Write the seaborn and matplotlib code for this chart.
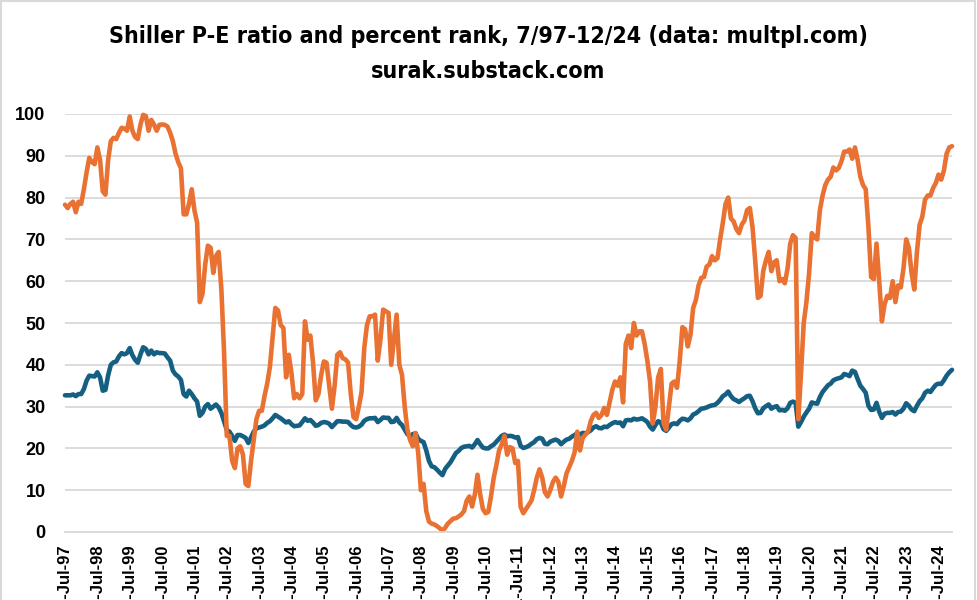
import numpy as np
import pandas as pd
import matplotlib
matplotlib.use("Agg")
import matplotlib.pyplot as plt
import seaborn as sns
from matplotlib import font_manager
from matplotlib.font_manager import FontProperties
from matplotlib.patches import Rectangle

# ---------------- data (monthly, 1-Jul-1997 .. 1-Dec-2024) ----------------
shiller_pe = [
    32.7, 32.7, 32.7, 32.9, 32.5, 33,                                   # 1997 Jul-Dec
    33, 34.2, 36.2, 37.4, 37.3, 37.2, 38.2, 37, 33.8, 34, 37.5, 40,     # 1998
    40.6, 40.8, 42, 42.8, 42.5, 42.8, 44, 42.3, 41.2, 40.5, 42.5, 44.2, # 1999
    43.8, 42.5, 43.4, 42.5, 43, 42.8, 42.8, 42.7, 41.8, 41, 38.6, 37.7, # 2000
    37.2, 36.4, 33, 32.4, 33.8, 33, 32, 31.2, 27.8, 28.5, 30, 30.6,     # 2001
    29.5, 30, 30.5, 29.8, 28.5, 26.5, 24.4, 24, 23, 21.8, 23.2, 23.2,   # 2002
    22.9, 22.5, 21.3, 22.6, 24, 24.8, 25, 25.2, 25.5, 26.1, 26.5, 27.2, # 2003
    28, 27.6, 27.2, 26.7, 26.2, 26.5, 25.8, 25.3, 25.4, 25.5, 26.3, 27.2,  # 2004
    26.6, 26.8, 26.2, 25.4, 25.6, 26.1, 26.3, 26.2, 25.9, 25.1, 25.8, 26.5,  # 2005
    26.5, 26.4, 26.4, 26.3, 25.6, 25.1, 25, 25.2, 25.7, 26.6, 27, 27.2,  # 2006
    27.2, 27.3, 26.3, 26.8, 27.4, 27.3, 27.3, 26.3, 26.4, 27.3, 26.2, 25.6,  # 2007
    24.5, 23.4, 22.9, 23.4, 23.6, 22.3, 21.8, 21.5, 19.5, 17, 15.7, 15.5,  # 2008
    14.9, 14.2, 13.6, 15.1, 15.9, 16.7, 17.8, 18.9, 19.4, 20.1, 20.4, 20.5,  # 2009
    20.6, 20.2, 21, 22, 21, 20.2, 20, 20, 20.5, 20.9, 21.6, 22.3,       # 2010
    23, 23.3, 22.9, 23, 22.9, 22.6, 22.7, 20.6, 20.1, 20.3, 20.6, 21.1, # 2011
    21.5, 22.2, 22.5, 22.3, 21.1, 21, 21.6, 21.9, 22.1, 21.8, 21, 21.6, # 2012
    22.1, 22.3, 22.8, 23.2, 23.6, 23.3, 23.7, 23.6, 23.9, 24.3, 25, 25.3,  # 2013
    24.9, 24.8, 25.2, 25.1, 25.6, 26, 26.3, 26.1, 26.2, 25.3, 26.7, 26.8,  # 2014
    26.7, 27.1, 26.9, 27, 27.2, 26.8, 26.3, 25.2, 24.5, 25.6, 26.5, 26.2,  # 2015
    24.6, 24.2, 25, 25.8, 26, 25.8, 26.6, 27.1, 27, 26.7, 27.2, 28.1,   # 2016
    28.4, 28.9, 29.5, 29.6, 29.8, 30.1, 30.3, 30.4, 30.9, 31.6, 32.5, 32.9,  # 2017
    33.6, 32.5, 31.8, 31.5, 31.1, 31.6, 32, 32.5, 32.6, 31.3, 29.6, 28.4,  # 2018
    28.5, 29.6, 30.1, 30.5, 29.5, 29.9, 30.1, 29.1, 29.2, 29, 29.6, 30.9,  # 2019
    31.2, 30.9, 25.2, 26.3, 27.6, 28.6, 29.5, 31, 30.8, 30.7, 32.3, 33.5,  # 2020
    34.3, 35.1, 35.5, 36.3, 36.6, 36.8, 37, 37.8, 37.6, 37.3, 38.6, 38.3,  # 2021
    36.6, 35, 34.2, 33.3, 30.2, 29.2, 29.3, 30.9, 28.8, 27.3, 28.3, 28.5,  # 2022
    28.5, 28.7, 28.1, 28.7, 28.8, 29.5, 30.8, 30.2, 29.3, 28.9, 30.2, 31.3,  # 2023
    32, 33.3, 33.8, 33.5, 34.4, 35.2, 35.5, 35.4, 36.3, 37.4, 38.2, 38.8,  # 2024
]

percent_rank = [
    78.3, 77.5, 78.5, 79, 76.5, 79,                                     # 1997 Jul-Dec
    78.5, 82, 86, 89.5, 88.5, 88, 92, 89, 81.5, 80.7, 89, 93.5,         # 1998
    94.3, 94, 95.5, 96.7, 96.5, 96, 99.4, 96, 94.5, 94, 97.5, 99.8,     # 1999
    99.5, 96, 98.6, 97.5, 96, 97.4, 97.5, 97.4, 97, 95.5, 93.5, 90.5,   # 2000
    88.5, 87, 76, 76, 78.5, 82, 77, 74, 55, 57, 64, 68.5,               # 2001
    68, 62, 66, 67, 58, 43, 23, 23, 17, 15.3, 20, 20.5,                 # 2002
    18.5, 11.5, 11, 17, 22, 27, 29, 29, 32.5, 35.5, 39.5, 46.5,         # 2003
    53.6, 53, 49.5, 48.8, 37, 42.4, 38, 32, 33, 32, 33, 50.4,           # 2004
    46, 47, 40.5, 31.5, 33, 37.5, 40.8, 40.5, 35, 29.5, 35, 42.4,       # 2005
    43, 41.6, 41.3, 40.5, 33, 27.5, 27, 30, 33.5, 44, 49.5, 51.6,       # 2006
    51.6, 52, 41, 46, 53.2, 52.8, 52.4, 40, 46, 52, 40, 37.6,           # 2007
    30, 24.5, 22, 20.5, 23.7, 19, 10, 11.5, 5, 2.5, 2, 1.8,             # 2008
    1.4, 0.9, 0.3, 1, 2, 2.6, 3.2, 3.3, 3.7, 4.2, 5, 7.5,               # 2009
    8.5, 6.1, 8.9, 13.7, 9, 5.5, 4.5, 4.8, 8.5, 12.9, 16, 19.5,         # 2010
    21, 23, 18.5, 20.3, 20, 16.5, 17, 6, 4.5, 5.5, 6.5, 7.5,            # 2011
    10, 13, 15, 13, 9.5, 8.5, 10, 12, 13, 12, 8.5, 11,                  # 2012
    14, 15.5, 17, 19, 24, 19.5, 22.5, 23.3, 24, 26.5, 28, 28.5,         # 2013
    27.3, 28, 29.7, 28, 31, 34, 36, 35, 37, 31, 45, 47,                 # 2014
    44, 50, 47, 48, 48, 45, 41, 36, 26, 30, 37, 39,                     # 2015
    26, 24.5, 30, 35.5, 36, 34.5, 40.8, 49, 48.5, 44.4, 47.2, 53.6,     # 2016
    55.5, 59, 60.8, 61, 63.5, 64, 66, 65, 65.5, 70, 74, 78.5,           # 2017
    80, 75, 74.3, 72.5, 71.5, 73.5, 74.5, 77, 77.5, 73, 65, 56,         # 2018
    56.5, 62.5, 65, 67, 62.4, 64.5, 65, 60, 60.5, 59.5, 63, 69,         # 2019
    71, 70.3, 27, 38, 50, 55, 62, 71.5, 70.5, 70, 77, 80.5,             # 2020
    83, 84.3, 85, 87.2, 86.5, 87.1, 88.7, 91, 91, 91.5, 89.3, 92,       # 2021
    89, 85, 83, 82, 73, 61, 60.5, 69, 60, 50.4, 54.5, 56.5,             # 2022
    56, 60, 55, 59, 58.5, 63, 70, 68, 62, 58, 67, 73.5,                 # 2023
    75.5, 79.5, 80.5, 80.5, 82.3, 83.5, 85.5, 84.3, 86.5, 90.5, 92, 92.3,  # 2024
]

tick_labels = ["1-Jul-97", "1-Jul-98", "1-Jul-99", "1-Jul-00", "1-Jul-01",
               "1-Jul-02", "1-Jul-03", "1-Jul-04", "1-Jul-05", "1-Jul-06",
               "1-Jul-07", "1-Jul-08", "1-Jul-09", "1-Jul-10", "1-Jul-11",
               "1-Jul-12", "1-Jul-13", "1-Jul-14", "1-Jul-15", "1-Jul-16",
               "1-Jul-17", "1-Jul-18", "1-Jul-19", "1-Jul-20", "1-Jul-21",
               "1-Jul-22", "1-Jul-23", "1-Jul-24"]

title_line1 = "Shiller P-E ratio and percent rank, 7/97-12/24 (data: multpl.com)"
title_line2 = "surak.substack.com"

# ---------------- styling ----------------
sns.set_style("white")
installed = {f.name for f in font_manager.fontManager.ttflist}
body_font = "Liberation Sans" if "Liberation Sans" in installed else "DejaVu Sans"
plt.rcParams["font.family"] = [body_font, "DejaVu Sans"]

# a narrow / condensed bold face for the title if one exists
title_prop = None
for f in font_manager.fontManager.ttflist:
    nm = f.name.lower()
    if ("narrow" in nm or "condensed" in nm or f.stretch in ("condensed", "semi-condensed")) \
            and f.weight in ("bold", 700) and f.style == "normal":
        title_prop = FontProperties(fname=f.fname)
        break
if title_prop is None:
    title_prop = FontProperties(family=[body_font, "DejaVu Sans"], weight="bold")

BLUE = "#156082"
ORANGE = "#E97132"
GRID = "#D9D9D9"

n = len(shiller_pe)
months = pd.date_range("1997-07-01", periods=n, freq="MS")
df = pd.DataFrame({
    "pos": np.arange(n),
    "month": months,
    "pe": shiller_pe,
    "rank": percent_rank[:n],
})

fig = plt.figure(figsize=(9.77, 6.0), dpi=100)
ax = fig.add_axes([65 / 977, 1 - 532 / 600, 887 / 977, 418 / 600])

sns.lineplot(data=df, x="pos", y="pe", color=BLUE, linewidth=3.3, ax=ax)
sns.lineplot(data=df, x="pos", y="rank", color=ORANGE, linewidth=3.3, ax=ax)
for line in ax.get_lines():
    line.set_clip_on(False)
    line.set_solid_joinstyle("round")
    line.set_solid_capstyle("round")

ax.set_xlim(0, n - 1)
ax.set_ylim(0, 100)
ax.set_yticks(range(0, 101, 10))
ax.grid(axis="y", color=GRID, linewidth=1.3)
ax.grid(axis="x", visible=False)
ax.set_axisbelow(True)
for s in ("left", "top", "right"):
    ax.spines[s].set_visible(False)
ax.spines["bottom"].set_color(GRID)
ax.spines["bottom"].set_linewidth(1.3)

tick_pos = df.loc[df["month"].dt.month == 7, "pos"].tolist()
ax.set_xticks(tick_pos)
ax.set_xticklabels(tick_labels[:len(tick_pos)], rotation=90, fontweight="bold",
                   fontsize=12, ha="center", va="top")
ax.tick_params(axis="x", length=3.5, width=1.2, color=GRID, pad=5.5, labelcolor="black")
ax.tick_params(axis="y", length=0, pad=14, labelsize=13, labelcolor="black")
for lbl in ax.get_yticklabels():
    lbl.set_fontweight("bold")
ax.set_xlabel("")
ax.set_ylabel("")

# title: size it so the first line spans the same width as in the reference (~762 px)
t1 = fig.text(0.5, 1 - 37 / 600, title_line1, ha="center", va="center",
              fontproperties=title_prop, color="black")
t1.set_fontsize(16)
renderer = fig.canvas.get_renderer()
w = t1.get_window_extent(renderer).width
size = 16 * 762.0 / max(w, 1)
t1.set_fontsize(size)
t2 = fig.text(0.5, 1 - 72 / 600, title_line2, ha="center", va="center",
              fontproperties=title_prop.copy(), color="black")
t2.set_fontsize(size)

fig.patches.append(Rectangle((0.0015, -0.05), 0.996, 1.048, transform=fig.transFigure,
                             fill=False, edgecolor=GRID, linewidth=1.5))

fig.savefig("out.png", dpi=100)
